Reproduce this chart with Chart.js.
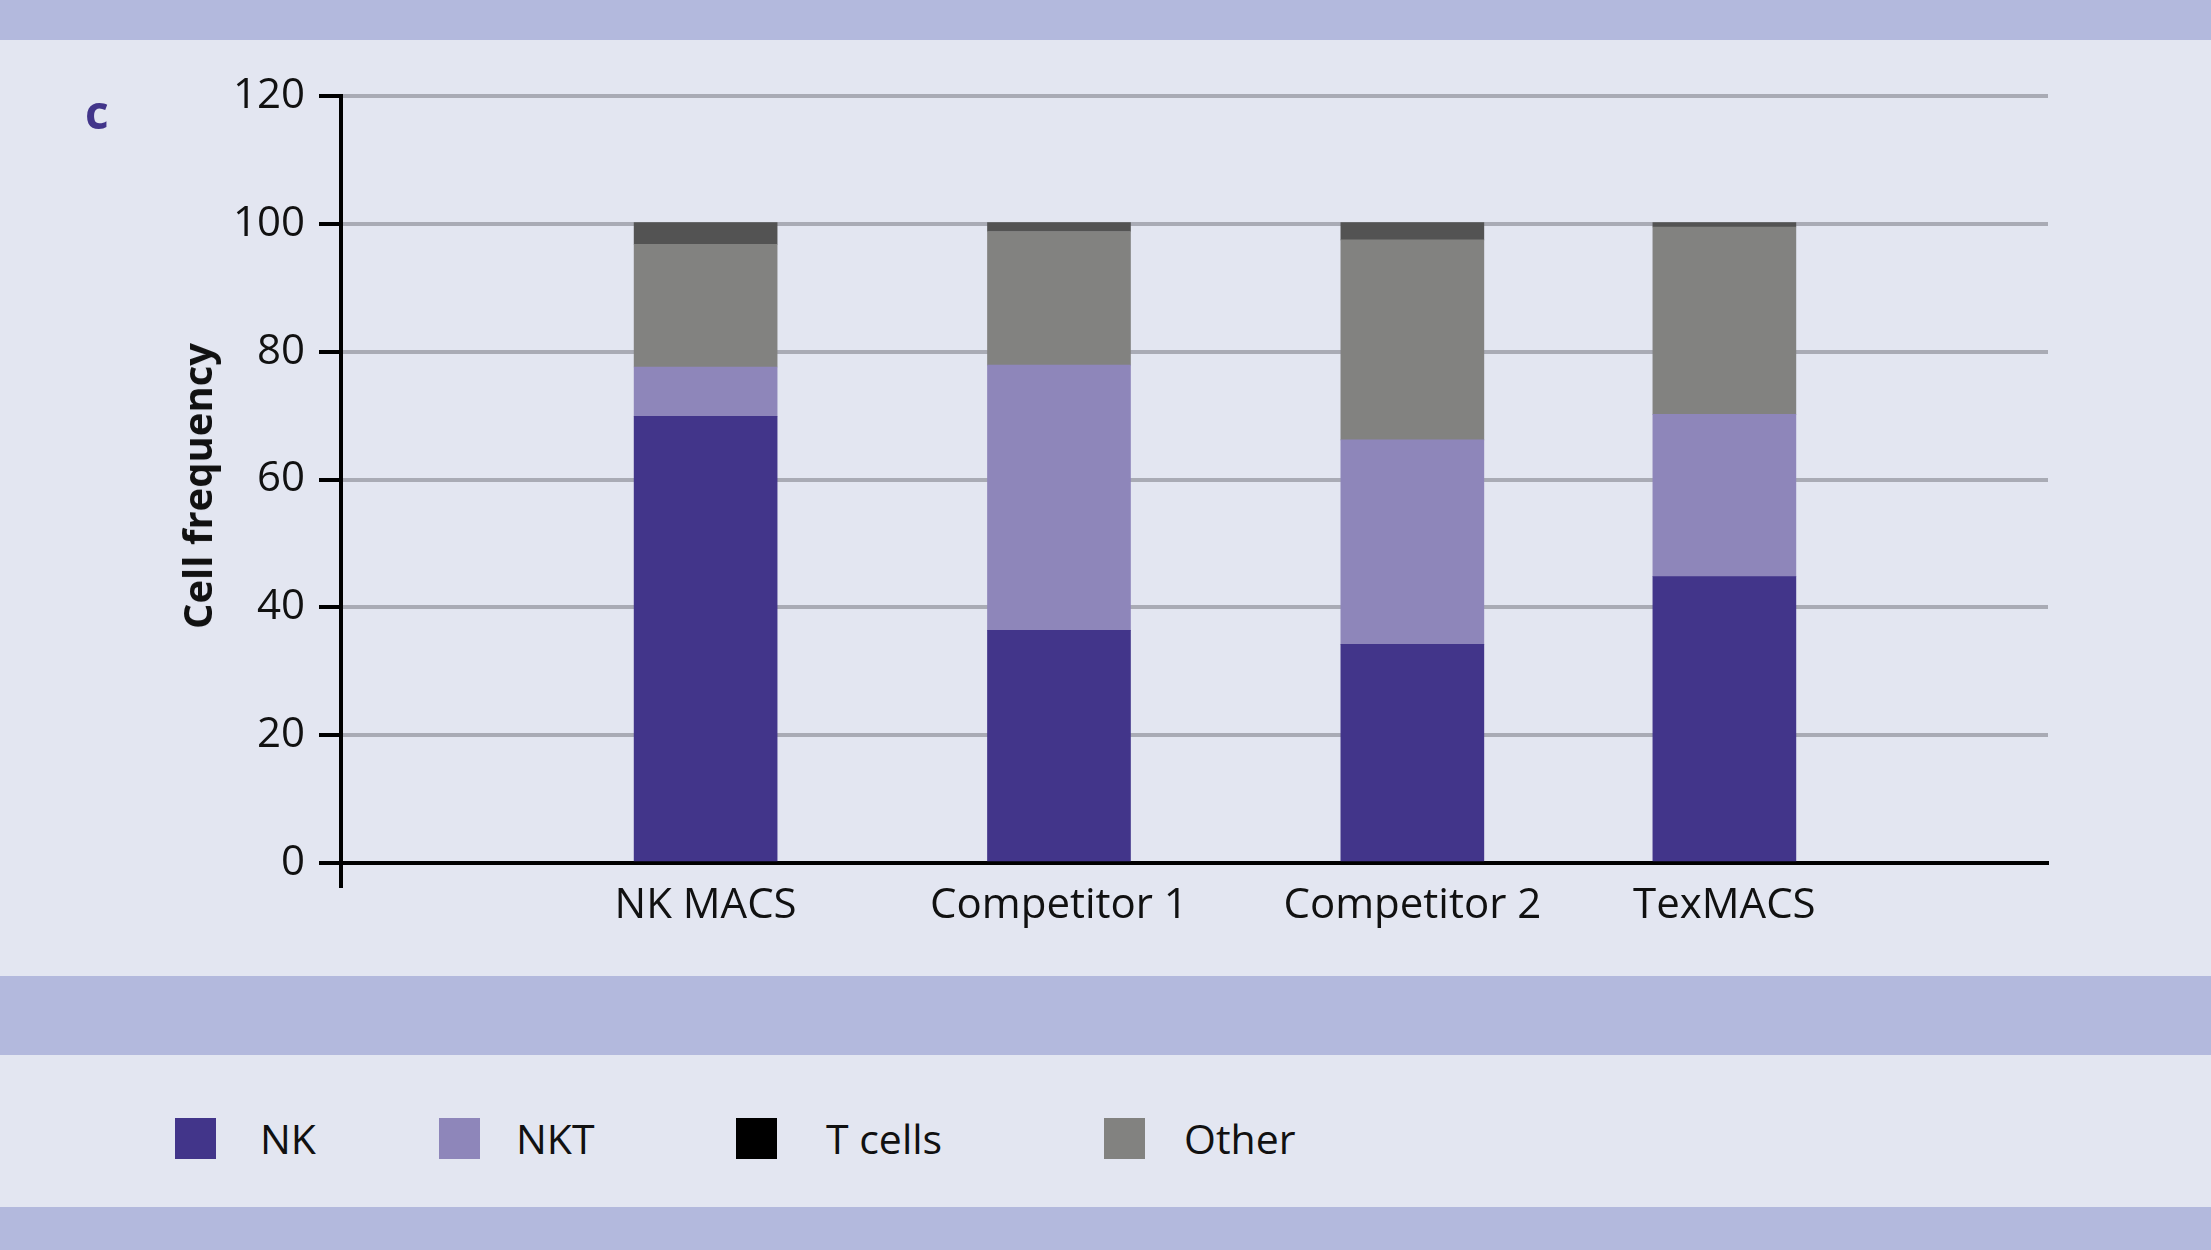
<!DOCTYPE html>
<html><head><meta charset="utf-8">
<script src="https://cdn.jsdelivr.net/npm/chart.js@4"></script>
<style>
html,body{margin:0;padding:0;width:2211px;height:1250px;background:#e3e6f1;overflow:hidden;font-family:"Open Sans","DejaVu Sans",sans-serif;}
.band{position:absolute;left:0;width:2211px;background:#b3b9dd;}
#wrap{position:absolute;left:0;top:0;width:2211px;height:976px;}
.lab{position:absolute;font-size:41px;color:#111;line-height:1;}
.sw{position:absolute;width:41px;height:41px;top:1118px;}
</style></head><body>
<div class="band" style="top:0;height:40px"></div>
<div class="band" style="top:976px;height:79px"></div>
<div class="band" style="top:1207px;height:43px"></div>
<div id="wrap"><canvas id="c" width="2211" height="976" style="width:2211px;height:976px"></canvas></div>
<div class="lab" style="left:85px;top:88px;font-weight:bold;color:#42358a;font-size:46px">c</div>
<div class="lab" style="left:197px;top:486px;font-weight:bold;font-size:40px;transform:translate(-50%,-50%) rotate(-90deg);white-space:nowrap">Cell frequency</div>
<div id="legend"></div>
<script>
const categories = ["NK MACS","Competitor 1","Competitor 2","TexMACS"];
const positions = [1, 2, 3, 3.883];
const nk    = [69.9, 36.4, 34.2, 44.8];
const nkt   = [7.7, 41.5, 32.0, 25.4];
const other = [19.2, 20.9, 31.3, 29.3];
const tcells= [3.4, 1.4, 2.7, 0.7];
const yTicks = [0,20,40,60,80,100,120];
const colors = {NK:"#42358a", NKT:"#8e86ba", T:"#535353", Other:"#828280"};

const pts = arr => arr.map((v,i)=>({x:positions[i], y:v}));
const ds = (label, data, color) => ({label, data:pts(data), backgroundColor:color, barThickness:143, borderWidth:0, stack:"s"});

const legendItems = [["NK",colors.NK,175,260],["NKT",colors.NKT,439,516],["T cells","#000",736,826],["Other",colors.Other,1104,1184]];
const lg = document.getElementById("legend");
legendItems.forEach(([t,c,sx,tx])=>{
  const s=document.createElement("div");s.className="sw";s.style.left=sx+"px";s.style.background=c;lg.appendChild(s);
  const l=document.createElement("div");l.className="lab";l.style.left=tx+"px";l.style.top="1118px";l.textContent=t;lg.appendChild(l);
});

const extendY = {id:"extendY", afterDraw(ch){
  const {ctx, chartArea:a}=ch; ctx.save(); ctx.strokeStyle="#000"; ctx.lineWidth=4;
  ctx.beginPath(); ctx.moveTo(a.left, a.bottom); ctx.lineTo(a.left, a.bottom+25); ctx.stroke(); ctx.restore();
}};

new Chart(document.getElementById("c"), {
  type:"bar",
  data:{datasets:[ds("NK",nk,colors.NK), ds("NKT",nkt,colors.NKT), ds("Other",other,colors.Other), ds("T cells",tcells,colors.T)]},
  options:{
    responsive:false, maintainAspectRatio:false, animation:false, devicePixelRatio:1,
    layout:{padding:{left:0,right:163,top:96,bottom:0}},
    plugins:{legend:{display:false}, tooltip:{enabled:false}},
    scales:{
      x:{type:"linear", stacked:true, min:0.572, max:4.195,
         afterBuildTicks: s => { s.ticks = positions.map(v=>({value:v})); },
         afterFit: s => { s.height = 113; },
         ticks:{callback:(v,i)=>categories[i], color:"#111", font:{size:42, family:"Open Sans"}, padding:18, autoSkip:false, maxRotation:0},
         grid:{display:false, drawTicks:false},
         border:{color:"#000", width:4}},
      y:{stacked:true, min:0, max:120,
         afterBuildTicks: s => { s.ticks = yTicks.map(v=>({value:v})); },
         afterFit: s => { s.width = 341; },
         ticks:{color:"#111", font:{size:42, family:"Open Sans"}, padding:14},
         grid:{color:"#a9abb5", lineWidth:4, tickLength:22, tickColor:"#000", tickWidth:4},
         border:{color:"#000", width:4}}
    }
  },
  plugins:[extendY]
});
</script>
</body></html>
